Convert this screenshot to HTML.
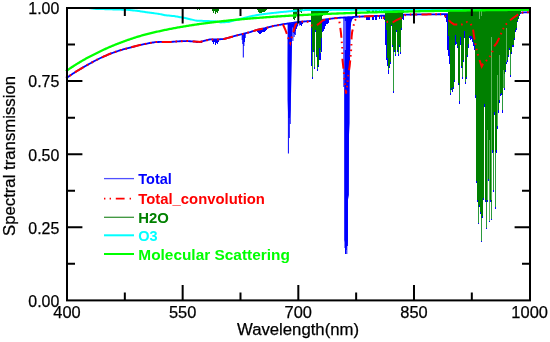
<!DOCTYPE html><html><head><meta charset="utf-8"><title>Spectral transmission</title><style>html,body{margin:0;padding:0;background:#fff;}svg{display:block;}</style></head><body><svg width="550" height="342" viewBox="0 0 550 342">
<rect width="550" height="342" fill="#fff"/>
<path d="M66,77.8 L67,77.44 L68,76.89 L69,76.23 L70,75.58 L71,74.92 L72,74.27 L73,73.61 L74,72.96 L75,72.3 L76,71.6 L77,71.01 L78,70.42 L79,69.83 L80,69.24 L81,68.65 L82,68.06 L83,67.47 L84,66.88 L85,66.29 L86,65.7 L87,65.15 L88,64.6 L89,64.05 L90,63.5 L91,62.95 L92,62.4 L93,61.85 L94,61.3 L95,60.75 L96,60.2 L97,59.7 L98,59.2 L99,58.7 L100,58.2 L101,57.76 L102,57.32 L103,56.88 L104,56.44 L105,56 L106,55.56 L107,55.12 L108,54.68 L109,54.24 L110,53.8 L111,53.45 L112,53.1 L113,52.75 L114,52.4 L115,52.05 L116,51.7 L117,51.35 L118,51 L119,50.65 L120,50.3 L121,50.03 L122,49.76 L123,49.49 L124,49.22 L125,48.95 L126,48.68 L127,48.41 L128,48.14 L129,47.87 L130,47.6 L131,47.33 L132,47.07 L133,46.8 L134,46.53 L135,46.27 L136,46 L137,45.75 L138,45.5 L139,45.25 L140,45 L141,44.8 L142,44.6 L143,44.4 L144,44.2 L145,44 L146,43.8 L147,43.6 L148,43.4 L149,43.2 L150,43 L151,42.84 L152,42.67 L153,42.51 L154,42.35 L155,42.18 L156,42.08 L157,42.05 L158,42.02 L159,41.99 L160,41.96 L161,41.93 L162,41.9 L163,41.93 L164,41.97 L165,42 L166,42.03 L167,42.07 L168,42.1 L169,42.03 L170,41.96 L171,41.89 L172,41.81 L173,41.74 L174,41.67 L175,41.6 L176,41.53 L177,41.47 L178,41.4 L179,41.33 L180,41.27 L181,41.2 L182,41.17 L183,41.13 L184,41.1 L185,41.07 L186,41.03 L187,41 L188,41.08 L189,41.15 L190,41.23 L191,41.3 L192,41.38 L193,41.45 L194,41.52 L195,41.6 L196,41.66 L197,41.72 L198,41.78 L199,41.84 L200,41.9 L201,41.68 L202,41.46 L203,41.24 L204,40.98 L205,40.71 L206,40.45 L207,40.19 L208,39.93 L209,39.66 L210,39.4 L211,39.41 L212,39.42 L213,39.43 L214,39.43 L215,39.44 L216,39.45 L217,39.46 L218,39.4 L219,39.33 L220,39.27 L221,39.21 L222,39.15 L223,39.08 L224,39.02 L225,38.73 L226,38.45 L227,38.16 L228,37.87 L229,37.59 L230,37.3 L231,37.03 L232,36.77 L233,36.5 L234,36.23 L235,35.96 L236,35.69 L237,35.41 L238,35.14 L239,34.87 L240,34.6 L241,34.35 L242,34.1 L243,33.85 L244,33.6 L245,33.35 L246,33.1 L247,32.85 L248,32.6 L249,32.35 L250,32.1 L251,31.79 L252,31.48 L253,31.16 L254,30.85 L255,30.54 L256,30.23 L257,29.91 L258,29.6 L259,29.4 L260,29.2 L261,29 L262,28.8 L263,28.6 L264,28.4 L265,28.2 L266,27.94 L267,27.68 L268,27.41 L269,27.15 L270,26.89 L271,26.62 L272,26.36 L273,26.1 L274,25.91 L275,25.72 L276,25.53 L277,25.34 L278,25.15 L279,24.96 L280,24.77 L281,24.58 L282,24.39 L283,24.2 L284,24.06 L285,23.91 L286,23.77 L287,23.63 L288,23.49 L289,23.34 L290,23.2 L291,23.06 L292,22.92 L293,22.78 L294,22.64 L295,22.5 L296,22.36 L297,22.22 L298,22.08 L299,21.94 L300,21.8 L301,21.72 L302,21.64 L303,21.56 L304,21.48 L305,21.4 L306,21.32 L307,21.24 L308,21.16 L309,21.08 L310,21 L311,20.9 L312,20.8 L313,20.7 L314,20.6 L315,20.5 L316,20.4 L317,20.3 L318,20.2 L319,20.1 L320,20 L321,19.9 L322,19.8 L323,19.7 L324,19.6 L325,19.5 L326,19.37 L327,19.24 L328,19.11 L329,18.98 L330,18.85 L331,18.72 L332,18.59 L333,18.46 L334,18.33 L335,18.2 L336,18.11 L337,18.03 L338,17.94 L339,17.86 L340,17.77 L341,17.69 L342,17.6 L343,17.54 L344,17.49 L345,17.43 L346,17.38 L347,17.32 L348,17.27 L349,17.21 L350,17.16 L351,17.1 L352,17.04 L353,16.99 L354,16.93 L355,16.88 L356,16.82 L357,16.77 L358,16.71 L359,16.66 L360,16.6 L361,16.56 L362,16.52 L363,16.48 L364,16.44 L365,16.4 L366,16.36 L367,16.32 L368,16.28 L369,16.24 L370,16.2 L371,16.16 L372,16.12 L373,16.08 L374,16.04 L375,16 L376,15.96 L377,15.92 L378,15.88 L379,15.84 L380,15.8 L381,15.76 L382,15.72 L383,15.68 L384,15.64 L385,15.6 L386,15.55 L387,15.5 L388,15.45 L389,15.4 L390,15.35 L391,15.3 L392,15.25 L393,15.2 L394,15.15 L395,15.1 L396,15.05 L397,15 L398,14.95 L399,14.9 L400,14.85 L401,14.8 L402,14.75 L403,14.7 L404,14.65 L405,14.6 L406,14.59 L407,14.58 L408,14.57 L409,14.56 L410,14.55 L411,14.54 L412,14.53 L413,14.52 L414,14.51 L415,14.5 L416,14.49 L417,14.48 L418,14.47 L419,14.46 L420,14.45 L421,14.44 L422,14.43 L423,14.42 L424,14.41 L425,14.4 L426,14.39 L427,14.38 L428,14.37 L429,14.36 L430,14.35 L431,14.34 L432,14.33 L433,14.32 L434,14.31 L435,14.3 L436,14.29 L437,14.28 L438,14.27 L439,14.26 L440,14.25 L441,14.24 L442,14.23 L443,14.22 L444,14.21 L445,14.2 L446,14.18 L447,14.17 L448,14.15 L449,14.13 L450,14.11 L451,14.1 L452,14.08 L453,14.06 L454,14.05 L455,14.03 L456,14.01 L457,13.99 L458,13.98 L459,13.96 L460,13.94 L461,13.93 L462,13.91 L463,13.89 L464,13.87 L465,13.86 L466,13.84 L467,13.82 L468,13.81 L469,13.79 L470,13.77 L471,13.75 L472,13.74 L473,13.72 L474,13.7 L475,13.69 L476,13.67 L477,13.65 L478,13.63 L479,13.62 L480,13.6 L481,13.57 L482,13.55 L483,13.53 L484,13.5 L485,13.47 L486,13.45 L487,13.42 L488,13.4 L489,13.38 L490,13.35 L491,13.32 L492,13.3 L493,13.28 L494,13.25 L495,13.22 L496,13.2 L497,13.17 L498,13.15 L499,13.12 L500,13.1 L501,13.07 L502,13.05 L503,13.03 L504,13 L505,12.97 L506,12.95 L507,12.92 L508,12.9 L509,12.88 L510,12.85 L511,12.82 L512,12.8 L513,12.78 L514,12.75 L515,12.72 L516,12.7 L517,12.67 L518,12.65 L519,12.62 L520,12.6 L521,12.56 L522,12.53 L523,12.49 L524,12.45 L525,12.42 L526,12.38 L527,12.35 L528,12.31 L529,12.27 L530,12.24 L531,12.2" fill="none" stroke="#0000ff" stroke-width="1.8" stroke-linejoin="round"/>
<path d="M242.2,34.05V40M242.8,33.9V44M243.3,33.77V57.5M243.9,33.62V46M244.5,33.48V42M245.2,33.3V38M288.4,23.43V153.5M289.3,23.3V138M290.2,23.17V124M292.9,22.79V41M294.1,22.63V37M295.3,22.46V35M296.4,22.3V29M297.5,22.15V26.5M299.3,21.9V25.5M300.6,21.75V24.5M343.9,17.49V87M345,17.43V248M345.5,17.41V254M346.2,17.37V250M346.8,17.33V254M347.4,17.3V246" fill="none" stroke="#0000ff" stroke-width="1"/>
<path d="M196,41.69h1V42.93h-1ZM197,41.75h1V43.34h-1ZM199,41.87h1V43.28h-1ZM201,41.57h1V42.72h-1ZM212,39.42h1V41.65h-1ZM213,39.43h1V43.89h-1ZM214,39.44h1V42.12h-1ZM215,39.45h1V44.62h-1ZM216,39.46h1V42.58h-1ZM217,39.43h1V44.07h-1ZM218,39.37h1V41.6h-1ZM257,29.76h1V31.61h-1ZM258,29.5h1V32.74h-1ZM259,29.3h1V33.56h-1ZM260,29.1h1V34.02h-1ZM261,28.9h1V33.36h-1ZM262,28.7h1V32.42h-1ZM263,28.5h1V31.75h-1ZM264,28.3h1V32.39h-1ZM265,28.07h1V31.05h-1ZM266,27.81h1V29.95h-1ZM293,22.71h1V32.68h-1ZM294,22.57h1V33.5h-1ZM295,22.43h1V31.46h-1ZM296,22.29h1V28.47h-1ZM297,22.15h1V25.96h-1ZM300,21.76h1V25.1h-1ZM301,21.68h1V25.97h-1ZM302,21.6h1V24.46h-1ZM311,20.85h1V66h-1ZM312,20.75h1V79.23h-1ZM313,20.65h1V51.83h-1ZM314,20.55h1V69.09h-1ZM315,20.45h1V31.53h-1ZM316,20.35h1V56.91h-1ZM317,20.25h1V71.12h-1ZM318,20.15h1V67.06h-1ZM319,20.05h1V60h-1ZM320,19.95h1V60h-1ZM321,19.85h1V52h-1ZM322,19.75h1V32h-1ZM323,19.65h1V31h-1ZM324,19.55h1V29h-1ZM325,19.43h1V26h-1ZM326,19.3h1V24.11h-1ZM327,19.18h1V23.5h-1ZM328,19.04h1V22.89h-1ZM366,16.34h1V19.64h-1ZM367,16.3h1V20.19h-1ZM368,16.26h1V19.76h-1ZM369,16.22h1V20.3h-1ZM372,16.1h1V19.79h-1ZM373,16.06h1V20.05h-1ZM375,15.98h1V19.58h-1ZM376,15.94h1V19.73h-1ZM379,15.82h1V18.55h-1ZM381,15.74h1V18.66h-1ZM383,15.66h1V18.97h-1ZM384,15.62h1V20.49h-1ZM385,15.57h1V45h-1ZM386,15.53h1V60h-1ZM387,15.47h1V66h-1ZM388,15.42h1V74h-1ZM389,15.38h1V68.07h-1ZM390,15.32h1V64.01h-1ZM391,15.28h1V26.45h-1ZM392,15.22h1V46.76h-1ZM393,15.17h1V93.45h-1ZM394,15.12h1V51.83h-1ZM395,15.07h1V55.89h-1ZM396,15.03h1V31.53h-1ZM397,14.97h1V51.83h-1ZM398,14.92h1V55.89h-1ZM399,14.88h1V46.76h-1ZM400,14.82h1V53.86h-1ZM401,14.78h1V29.5h-1ZM402,14.72h1V19.35h-1ZM403,14.67h1V19.56h-1ZM444,14.21h1V16h-1ZM445,14.19h1V18h-1ZM446,14.17h1V22h-1ZM447,14.16h1V50h-1ZM448,14.14h1V56h-1ZM449,14.12h1V64h-1ZM450,14.11h1V95.48h-1ZM451,14.09h1V90.4h-1ZM452,14.07h1V92.43h-1ZM453,14.05h1V89.39h-1ZM454,14.04h1V82.28h-1ZM455,14.02h1V45h-1ZM456,14h1V43.71h-1ZM457,13.99h1V47.77h-1ZM458,13.97h1V85.33h-1ZM459,13.95h1V103.59h-1ZM460,13.93h1V45h-1ZM461,13.92h1V68.07h-1ZM462,13.9h1V79.23h-1ZM463,13.88h1V61.98h-1ZM464,13.87h1V38h-1ZM465,13.85h1V84.31h-1ZM466,13.83h1V79.23h-1ZM467,13.81h1V56.91h-1ZM468,13.8h1V48h-1ZM469,13.78h1V38h-1ZM470,13.76h1V40h-1ZM471,13.75h1V39h-1ZM472,13.73h1V42h-1ZM473,13.71h1V46h-1ZM474,13.69h1V50h-1ZM475,13.68h1V97.51h-1ZM476,13.66h1V183.31h-1ZM477,13.64h1V201.94h-1ZM478,13.63h1V224.49h-1ZM479,13.61h1V206.83h-1ZM480,13.59h1V213.69h-1ZM481,13.56h1V242.13h-1ZM482,13.54h1V217.6h-1ZM483,13.51h1V199.93h-1ZM484,13.49h1V106.64h-1ZM485,13.46h1V201.88h-1ZM486,13.44h1V229.35h-1ZM487,13.41h1V201.86h-1ZM488,13.39h1V181.24h-1ZM489,13.36h1V222.46h-1ZM490,13.34h1V201.83h-1ZM491,13.31h1V220.48h-1ZM492,13.29h1V152.72h-1ZM493,13.26h1V191.99h-1ZM494,13.24h1V114.76h-1ZM495,13.21h1V208.67h-1ZM496,13.19h1V152.67h-1ZM497,13.16h1V128.97h-1ZM498,13.14h1V112.73h-1ZM499,13.11h1V102.58h-1ZM500,13.09h1V96.49h-1ZM501,13.06h1V95.48h-1ZM502,13.04h1V112.73h-1ZM503,13.01h1V74.16h-1ZM504,12.99h1V90.4h-1ZM505,12.96h1V72.13h-1ZM506,12.94h1V64.01h-1ZM507,12.91h1V61.98h-1ZM508,12.89h1V56.91h-1ZM509,12.86h1V49.8h-1ZM510,12.84h1V77.2h-1ZM511,12.81h1V53.86h-1ZM512,12.79h1V46.76h-1ZM513,12.76h1V46.76h-1ZM514,12.74h1V39.65h-1ZM515,12.71h1V31.53h-1ZM516,12.69h1V29.5h-1ZM517,12.66h1V21.89h-1ZM518,12.64h1V19.35h-1ZM519,12.61h1V16.3h-1ZM520,12.58h1V14.27h-1Z" fill="#0000ff" shape-rendering="crispEdges"/>
<path d="M287.7,23.8 L297,23.4 L296.2,26 L292.2,27.5 L291.8,60 L291.1,90 L290.6,110 L290.0,118 L288.2,118 L287.6,100 L287.5,60 Z" fill="#0000ff"/>
<path d="M346.3,18 L354.5,17.4 L352.2,19.5 L351.1,23 L350.7,30 L350.4,45 L350.0,60 L349.7,87 L349.6,123 L349.0,135 L348.9,195 L347.9,200 L347.8,240 L346.5,248 L344.4,240 L344.3,90 L344.8,62 L345.5,50 L346.3,44 L346.3,25 Z" fill="#0000ff"/>
<path d="M345.2,21V50" stroke="#b4b4ff" stroke-width="0.8"/>
<path d="M196,8h1V9.4h-1ZM197,8h1V9.8h-1ZM199,8h1V9.6h-1ZM201,8h1V9.3h-1ZM212,8h1V10.5h-1ZM213,8h1V13h-1ZM214,8h1V11h-1ZM215,8h1V13.8h-1ZM216,8h1V11.5h-1ZM217,8h1V13.2h-1ZM218,8h1V10.5h-1ZM257,8h1V10h-1ZM258,8h1V11.5h-1ZM259,8h1V12.6h-1ZM260,8h1V13.3h-1ZM261,8h1V12.8h-1ZM262,8h1V12h-1ZM263,8h1V11.5h-1ZM264,8h1V12.4h-1ZM265,8h1V11.2h-1ZM266,8h1V10.3h-1ZM293,8h1V18.5h-1ZM294,8h1V19.5h-1ZM295,8h1V17.5h-1ZM296,8h1V14.5h-1ZM297,8h1V12h-1ZM300,8h1V11.5h-1ZM301,8h1V12.5h-1ZM302,8h1V11h-1ZM311,8h1V28h-1ZM312,8h1V51.5h-1ZM313,8h1V50h-1ZM314,8h1V51.5h-1ZM315,8h1V30h-1ZM316,8h1V55h-1ZM317,8h1V66.5h-1ZM318,8h1V65h-1ZM319,8h1V48h-1ZM320,8h1V49.5h-1ZM321,8h1V38h-1ZM322,8h1V16h-1ZM323,8h1V15h-1ZM324,8h1V14h-1ZM325,8h1V13h-1ZM326,8h1V13h-1ZM327,8h1V12.5h-1ZM328,8h1V12h-1ZM366,8h1V11.4h-1ZM367,8h1V12h-1ZM368,8h1V11.6h-1ZM369,8h1V12.2h-1ZM372,8h1V11.8h-1ZM373,8h1V12.1h-1ZM375,8h1V11.7h-1ZM376,8h1V11.9h-1ZM379,8h1V10.8h-1ZM381,8h1V11h-1ZM383,8h1V11.4h-1ZM384,8h1V13h-1ZM385,8h1V22h-1ZM386,8h1V30h-1ZM387,8h1V58h-1ZM388,8h1V67.5h-1ZM389,8h1V66h-1ZM390,8h1V62h-1ZM391,8h1V25h-1ZM392,8h1V45h-1ZM393,8h1V51.5h-1ZM394,8h1V50h-1ZM395,8h1V51.5h-1ZM396,8h1V30h-1ZM397,8h1V50h-1ZM398,8h1V51.5h-1ZM399,8h1V45h-1ZM400,8h1V46.5h-1ZM401,8h1V28h-1ZM402,8h1V18h-1ZM403,8h1V13h-1ZM444,8h1V8h-1ZM445,8h1V8h-1ZM446,8h1V8h-1ZM447,8h1V8h-1ZM448,8h1V36h-1ZM449,8h1V50h-1ZM450,8h1V89.5h-1ZM451,8h1V88h-1ZM452,8h1V90h-1ZM453,8h1V87h-1ZM454,8h1V80h-1ZM455,8h1V35h-1ZM456,8h1V42h-1ZM457,8h1V46h-1ZM458,8h1V83h-1ZM459,8h1V84.5h-1ZM460,8h1V37h-1ZM461,8h1V66h-1ZM462,8h1V67.5h-1ZM463,8h1V60h-1ZM464,8h1V31h-1ZM465,8h1V78.5h-1ZM466,8h1V77h-1ZM467,8h1V55h-1ZM468,8h1V44h-1ZM469,8h1V36h-1ZM470,8h1V36h-1ZM471,8h1V36h-1ZM472,8h1V38h-1ZM473,8h1V42h-1ZM474,8h1V44h-1ZM475,8h1V95h-1ZM476,8h1V181h-1ZM477,8h1V200h-1ZM478,8h1V206.5h-1ZM479,8h1V205h-1ZM480,8h1V212h-1ZM481,8h1V217.5h-1ZM482,8h1V216h-1ZM483,8h1V198h-1ZM484,8h1V104h-1ZM485,8h1V200h-1ZM486,8h1V201.5h-1ZM487,8h1V200h-1ZM488,8h1V179h-1ZM489,8h1V201.5h-1ZM490,8h1V200h-1ZM491,8h1V201.5h-1ZM492,8h1V150h-1ZM493,8h1V151.5h-1ZM494,8h1V112h-1ZM495,8h1V151.5h-1ZM496,8h1V150h-1ZM497,8h1V126h-1ZM498,8h1V110h-1ZM499,8h1V100h-1ZM500,8h1V94h-1ZM501,8h1V93h-1ZM502,8h1V94.5h-1ZM503,8h1V72h-1ZM504,8h1V73.5h-1ZM505,8h1V70h-1ZM506,8h1V62h-1ZM507,8h1V60h-1ZM508,8h1V55h-1ZM509,8h1V48h-1ZM510,8h1V53.5h-1ZM511,8h1V52h-1ZM512,8h1V45h-1ZM513,8h1V45h-1ZM514,8h1V38h-1ZM515,8h1V30h-1ZM516,8h1V28h-1ZM517,8h1V20.5h-1ZM518,8h1V18h-1ZM519,8h1V15h-1ZM520,8h1V13h-1Z" fill="#008000" shape-rendering="crispEdges"/>
<path d="M312,51.5h1V77h-1ZM314,51.5h1V67h-1ZM317,66.5h1V69h-1ZM320,49.5h1V53h-1ZM388,67.5h1V70h-1ZM393,51.5h1V91h-1ZM395,51.5h1V54h-1ZM398,51.5h1V54h-1ZM400,46.5h1V52h-1ZM450,89.5h1V93h-1ZM459,84.5h1V101h-1ZM462,67.5h1V77h-1ZM465,78.5h1V82h-1ZM478,206.5h1V223h-1ZM481,217.5h1V241h-1ZM486,201.5h1V228h-1ZM489,201.5h1V221h-1ZM491,201.5h1V219h-1ZM493,151.5h1V190h-1ZM495,151.5h1V207h-1ZM502,94.5h1V110h-1ZM504,73.5h1V88h-1ZM510,53.5h1V75h-1Z" fill="#2a9a3c" shape-rendering="crispEdges"/>
<path d="M491,37h1V200h-1ZM497,75h1V126h-1ZM499,55h1V100h-1ZM487,130h1V200h-1ZM489,140h1V221h-1ZM479,11h1V19h-1ZM481,11h1V16h-1ZM506,28h1V62h-1ZM503,70h1V88h-1Z" fill="#5cb35c" shape-rendering="crispEdges"/>
<path d="M66,77.8 L67,77.44 L68,76.89 L69,76.23 L70,75.58 L71,74.92 L72,74.27 L73,73.61 L74,72.96 L75,72.3 L76,71.6 L77,71.01 L78,70.42 L79,69.83 L80,69.24 L81,68.65 L82,68.06 L83,67.47 L84,66.88 L85,66.29 L86,65.7 L87,65.15 L88,64.6 L89,64.05 L90,63.5 L91,62.95 L92,62.4 L93,61.85 L94,61.3 L95,60.75 L96,60.2 L97,59.7 L98,59.2 L99,58.7 L100,58.2 L101,57.76 L102,57.32 L102,57.32 L103,56.88 L104,56.44 L105,56 L106,55.56 L107,55.12 L108,54.68 L109,54.24 L110,53.8 L111,53.45 L112,53.1 L113,52.75 L114,52.4 L115,52.05 L116,51.7 L117,51.35 L118,51 L119,50.65 L120,50.3 L121,50.03 L122,49.76 L123,49.49 L124,49.22 L125,48.95 L126,48.68 L127,48.41 L128,48.14 L129,47.87 L130,47.6 L131,47.33 L132,47.07 L133,46.8 L134,46.53 L135,46.27 L136,46 L137,45.75 L138,45.5 L139,45.25 L140,45 L141,44.8 L142,44.6 L143,44.4 L144,44.2 L145,44 L146,43.8 L147,43.6 L148,43.4 L149,43.2 L150,43 L151,42.84 L152,42.67 L153,42.51 L154,42.35 L155,42.18 L156,42.08 L157,42.05 L158,42.02 L159,41.99 L160,41.96 L161,41.93 L162,41.9 L163,41.93 L164,41.97 L165,42 L166,42.03 L167,42.07 L168,42.1 L169,42.03 L170,41.96 L171,41.89 L172,41.81 L173,41.74 L174,41.67 L175,41.6 L176,41.53 L177,41.47 L178,41.4 L179,41.33 L180,41.27 L181,41.2 L182,41.17 L183,41.13 L184,41.1 L185,41.07 L186,41.03 L187,41 L188,41.08 L189,41.15 L190,41.23 L191,41.3 L192,41.38 L193,41.45 L194,41.52 L195,41.6 L196,41.66 L197,41.72 L198,41.78 L199,41.84 L200,41.9 L201,41.68 L202,41.46 L203,41.24 L204,40.98 L205,40.71 L206,40.45 L207,40.19 L208,39.93 L209,39.66 L210,39.4 L211,39.41 L212,39.42 L213,39.43 L214,39.43 L215,39.44 L216,39.45 L217,39.46 L218,39.4 L219,39.33 L220,39.27 L221,39.21 L222,39.15 L223,39.08 L224,39.02 L225,38.73 L226,38.45 L227,38.16 L228,37.87 L229,37.59 L230,37.3 L231,37.03 L232,36.77 L233,36.5 L234,36.23 L235,35.96 L236,35.69 L237,35.41 L238,35.14 L239,34.87 L240,34.6 L241,34.35 L242,34.1 L243,33.85 L244,33.6 L245,33.35 L246,33.1 L247,32.85 L248,32.6 L249,32.35 L250,32.1 L251,31.79 L252,31.48 L253,31.16 L254,30.85 L255,30.54 L256,30.23 L257,29.91 L258,29.6 L259,29.4 L260,29.2 L261,29 L262,28.8 L263,28.6 L264,28.4 L265,28.2 L266,27.94 L267,27.68 L268,27.41 L269,27.15 L270,26.89 L271,26.62 L272,26.36 L273,26.1 L274,25.91 L275,25.72 L276,25.53 L277,25.34 L278,25.15 L279,24.96 L280,24.77 L281,24.58" fill="none" stroke="#ff0000" stroke-width="2" stroke-dasharray="10 3.8 1.6 3.9 1.6 3.9 1.6 4.6" stroke-dashoffset="20.52"/>
<path d="M281,24.58 L283,24.6 L285.5,30.2 L287,34.3 L288.2,37.8 L290.3,43 L292,36 L293.5,31.4 L295.5,24.5 L297.5,22.8 L299,21.94 L299.5,21.87" fill="none" stroke="#ff0000" stroke-width="2" stroke-dasharray="10 3.8 1.6 3.9 1.6 3.9 1.6 4.6" stroke-dashoffset="29.00"/>
<path d="M299.5,21.87 L300,21.8 L301,21.72 L302,21.64 L303,21.56 L304,21.48 L305,21.4 L306,21.32 L309,22.2 L312,25.5 L316.5,25.5 L317,25.12 L319.5,23.2 L323,20.3 L326,19.37 L327,19.24 L328,19.11 L329,18.98 L330,18.85 L331,18.72 L332,18.59 L333,18.46 L334,18.33 L335,18.2 L336,18.11" fill="none" stroke="#ff0000" stroke-width="2" stroke-dasharray="10 3.8 1.6 3.9 1.6 3.9 1.6 4.6" stroke-dashoffset="11.76"/>
<path d="M336,18.11 L337.5,18.4 L339.3,21 L340.2,27 L341,33.4 L341.6,40.4 L342.2,46 L342.5,60 L343.6,70 L344.8,82 L346,93.5" fill="none" stroke="#ff0000" stroke-width="2" stroke-dasharray="10 3.8 1.6 3.9 1.6 3.9 1.6 4.6" stroke-dashoffset="19.44"/>
<path d="M346,93.5 L347,86.8 L348,77 L349.7,66 L351.3,48 L351.6,37 L352.1,32.2 L353.5,25.8 L355,20.5 L357,17.4 L359,16.66 L360,16.6 L361,16.56" fill="none" stroke="#ff0000" stroke-width="2" stroke-dasharray="10 3.8 1.6 3.9 1.6 3.9 1.6 4.6" stroke-dashoffset="7.57"/>
<path d="M361,16.56 L362,16.52 L363,16.48 L364,16.44 L365,16.4 L366,16.36 L367,16.32 L368,16.28 L369,16.24 L370,16.2 L371,16.16 L372,16.12 L373,16.08 L374,16.04 L375,16 L376,15.96 L377,15.92 L378,15.88 L380,16.2 L383,17.4 L387.5,22 L392.5,22.6 L396,20.3 L400,18.5 L405,15.2 L407,14.58 L408,14.57 L409,14.56 L410,14.55 L411,14.54 L412,14.53 L413,14.52 L414,14.51 L415,14.5 L416,14.49 L417,14.48 L418,14.47 L419,14.46 L420,14.45 L421,14.44 L421.5,14.43 L422,14.43 L423,14.42 L424,14.41 L425,14.4 L426,14.39 L427,14.38 L428,14.37 L429,14.36 L430,14.35 L431,14.34 L432,14.33 L433,14.32 L434,14.31 L435,14.3 L436,14.29 L437,14.28 L438,14.27 L439,14.26 L440,14.25" fill="none" stroke="#ff0000" stroke-width="2" stroke-dasharray="10 3.8 1.6 3.9 1.6 3.9 1.6 4.6" stroke-dashoffset="28.10"/>
<path d="M440,14.25 L441.5,14.2 L446.5,16.8 L450.5,22 L454,24.4 L458,24.6 L462,24.4 L467,22 L470.5,23.2 L473,29 L474,36 L475,42.5 L476,47.2 L478.5,57 L481.7,66.5 L483,64 L485,62 L489,58 L492,53 L493.5,47.4 L497,42.5 L500,36.3 L502.5,30.2 L505.5,25 L509,21 L514.5,17 L519,13.8 L523,12.49 L524,12.45 L525,12.42 L526,12.38 L527,12.35 L528,12.31 L529,12.27 L530,12.24 L531,12.2" fill="none" stroke="#ff0000" stroke-width="2" stroke-dasharray="10 3.8 1.6 3.9 1.6 3.9 1.6 4.6" stroke-dashoffset="19.80"/>
<path d="M88,8 L89,8.11 L90,8.22 L91,8.34 L92,8.45 L93,8.56 L94,8.68 L95,8.79 L96,8.9 L97,8.93 L98,8.96 L99,8.98 L100,9.01 L101,9.04 L102,9.07 L103,9.1 L104,9.12 L105,9.15 L106,9.18 L107,9.21 L108,9.24 L109,9.27 L110,9.29 L111,9.32 L112,9.35 L113,9.38 L114,9.41 L115,9.43 L116,9.46 L117,9.49 L118,9.52 L119,9.55 L120,9.58 L121,9.6 L122,9.63 L123,9.66 L124,9.69 L125,9.72 L126,9.74 L127,9.77 L128,9.8 L129,9.92 L130,10.04 L131,10.15 L132,10.27 L133,10.39 L134,10.51 L135,10.63 L136,10.75 L137,10.86 L138,10.98 L139,11.1 L140,11.25 L141,11.4 L142,11.55 L143,11.7 L144,11.85 L145,12 L146,12.15 L147,12.3 L148,12.43 L149,12.57 L150,12.7 L151,12.83 L152,12.97 L153,13.1 L154,13.23 L155,13.37 L156,13.5 L157,13.63 L158,13.77 L159,13.9 L160,14.12 L161,14.33 L162,14.55 L163,14.77 L164,14.98 L165,15.2 L166,15.3 L167,15.4 L168,15.5 L169,15.6 L170,15.7 L171,15.8 L172,15.9 L173,16 L174,16.1 L175,16.2 L176,16.4 L177,16.6 L178,16.8 L179,17 L180,17.2 L181,17.36 L182,17.52 L183,17.68 L184,17.84 L185,18 L186,18.24 L187,18.47 L188,18.71 L189,18.95 L190,19.18 L191,19.42 L192,19.65 L193,19.89 L194,20.13 L195,20.36 L196,20.6 L197,20.64 L198,20.68 L199,20.73 L200,20.77 L201,20.81 L202,20.85 L203,20.89 L204,20.93 L205,20.98 L206,21.02 L207,21.06 L208,21.1 L209,21.11 L210,21.13 L211,21.14 L212,21.16 L213,21.17 L214,21.19 L215,21.2 L216,21.4 L217,21.6 L218,21.8 L219,22 L220,22.2 L221,22.4 L222,22.34 L223,22.27 L224,22.21 L225,22.15 L226,22.09 L227,22.02 L228,21.96 L229,21.9 L230,21.65 L231,21.4 L232,21.15 L233,20.9 L234,20.65 L235,20.4 L236,20.1 L237,19.8 L238,19.5 L239,19.2 L240,18.9 L241,18.65 L242,18.4 L243,18.15 L244,17.9 L245,17.65 L246,17.4 L247,17.15 L248,16.9 L249,16.65 L250,16.4 L251,16.21 L252,16.02 L253,15.84 L254,15.65 L255,15.46 L256,15.28 L257,15.09 L258,14.9 L259,14.76 L260,14.61 L261,14.47 L262,14.33 L263,14.19 L264,14.04 L265,13.9 L266,13.79 L267,13.67 L268,13.56 L269,13.45 L270,13.33 L271,13.22 L272,13.11 L273,12.99 L274,12.88 L275,12.77 L276,12.65 L277,12.54 L278,12.43 L279,12.31 L280,12.2 L281,12.11 L282,12.01 L283,11.92 L284,11.83 L285,11.73 L286,11.64 L287,11.55 L288,11.45 L289,11.36 L290,11.27 L291,11.17 L292,11.08 L293,10.99 L294,10.89 L295,10.8 L296,10.73 L297,10.66 L298,10.59 L299,10.52 L300,10.45 L301,10.38 L302,10.31 L303,10.24 L304,10.17 L305,10.1 L306,10.09 L307,10.08 L308,10.07 L309,10.07 L310,10.06 L311,10.05 L312,10.04 L313,10.03 L314,10.02 L315,10.01 L316,10.01 L317,10 L318,9.99 L319,9.98 L320,9.97 L321,9.96 L322,9.95 L323,9.95 L324,9.94 L325,9.93 L326,9.92 L327,9.91 L328,9.9 L329,9.89 L330,9.89 L331,9.88 L332,9.87 L333,9.86 L334,9.85 L335,9.84 L336,9.83 L337,9.83 L338,9.82 L339,9.81 L340,9.8 L341,9.8 L342,9.79 L343,9.79 L344,9.79 L345,9.78 L346,9.78 L347,9.78 L348,9.77 L349,9.77 L350,9.77 L351,9.76 L352,9.76 L353,9.76 L354,9.75 L355,9.75 L356,9.75 L357,9.74 L358,9.74 L359,9.74 L360,9.73 L361,9.73 L362,9.73 L363,9.72 L364,9.72 L365,9.72 L366,9.71 L367,9.71 L368,9.71 L369,9.7 L370,9.7 L371,9.7 L372,9.69 L373,9.69 L374,9.69 L375,9.68 L376,9.68 L377,9.68 L378,9.67 L379,9.67 L380,9.67 L381,9.66 L382,9.66 L383,9.66 L384,9.65 L385,9.65 L386,9.65 L387,9.64 L388,9.64 L389,9.64 L390,9.63 L391,9.63 L392,9.63 L393,9.62 L394,9.62 L395,9.62 L396,9.61 L397,9.61 L398,9.61 L399,9.6 L400,9.6 L401,9.6 L402,9.6 L403,9.59 L404,9.59 L405,9.59 L406,9.59 L407,9.58 L408,9.58 L409,9.58 L410,9.58 L411,9.57 L412,9.57 L413,9.57 L414,9.57 L415,9.57 L416,9.56 L417,9.56 L418,9.56 L419,9.56 L420,9.55 L421,9.55 L422,9.55 L423,9.55 L424,9.55 L425,9.54 L426,9.54 L427,9.54 L428,9.54 L429,9.53 L430,9.53 L431,9.53 L432,9.53 L433,9.52 L434,9.52 L435,9.52 L436,9.52 L437,9.52 L438,9.51 L439,9.51 L440,9.51 L441,9.51 L442,9.5 L443,9.5 L444,9.5 L445,9.5 L446,9.49 L447,9.49 L448,9.49 L449,9.49 L450,9.49 L451,9.48 L452,9.48 L453,9.48 L454,9.48 L455,9.47 L456,9.47 L457,9.47 L458,9.47 L459,9.46 L460,9.46 L461,9.46 L462,9.46 L463,9.46 L464,9.45 L465,9.45 L466,9.45 L467,9.45 L468,9.44 L469,9.44 L470,9.44 L471,9.44 L472,9.44 L473,9.43 L474,9.43 L475,9.43 L476,9.43 L477,9.42 L478,9.42 L479,9.42 L480,9.42 L481,9.41 L482,9.41 L483,9.41 L484,9.41 L485,9.41 L486,9.4 L487,9.4 L488,9.4 L489,9.4 L490,9.39 L491,9.39 L492,9.39 L493,9.39 L494,9.38 L495,9.38 L496,9.38 L497,9.38 L498,9.38 L499,9.37 L500,9.37 L501,9.37 L502,9.37 L503,9.36 L504,9.36 L505,9.36 L506,9.36 L507,9.35 L508,9.35 L509,9.35 L510,9.35 L511,9.35 L512,9.34 L513,9.34 L514,9.34 L515,9.34 L516,9.33 L517,9.33 L518,9.33 L519,9.33 L520,9.33 L521,9.32 L522,9.32 L523,9.32 L524,9.32 L525,9.31 L526,9.31 L527,9.31 L528,9.31 L529,9.3 L530,9.3 L531,9.3" fill="none" stroke="#00ffff" stroke-width="2.0"/>
<path d="M66,71.21 L67,70.5 L68,69.8 L69,69.11 L70,68.42 L71,67.75 L72,67.08 L73,66.42 L74,65.78 L75,65.14 L76,64.51 L77,63.88 L78,63.27 L79,62.66 L80,62.06 L81,61.47 L82,60.88 L83,60.31 L84,59.74 L85,59.18 L86,58.62 L87,58.08 L88,57.54 L89,57 L90,56.48 L91,55.96 L92,55.45 L93,54.94 L94,54.44 L95,53.95 L96,53.44 L97,52.93 L98,52.43 L99,51.94 L100,51.45 L101,50.97 L102,50.5 L103,50.03 L104,49.56 L105,49.1 L106,48.65 L107,48.2 L108,47.76 L109,47.32 L110,46.89 L111,46.47 L112,46.04 L113,45.63 L114,45.22 L115,44.81 L116,44.41 L117,44.01 L118,43.62 L119,43.23 L120,42.85 L121,42.47 L122,42.09 L123,41.72 L124,41.35 L125,40.99 L126,40.63 L127,40.28 L128,39.93 L129,39.59 L130,39.24 L131,38.91 L132,38.57 L133,38.24 L134,37.91 L135,37.59 L136,37.27 L137,36.96 L138,36.64 L139,36.33 L140,36.03 L141,35.75 L142,35.48 L143,35.21 L144,34.94 L145,34.67 L146,34.41 L147,34.15 L148,33.9 L149,33.65 L150,33.4 L151,33.15 L152,32.91 L153,32.67 L154,32.43 L155,32.19 L156,31.96 L157,31.73 L158,31.5 L159,31.28 L160,31.06 L161,30.84 L162,30.62 L163,30.41 L164,30.2 L165,29.99 L166,29.78 L167,29.58 L168,29.37 L169,29.17 L170,28.98 L171,28.78 L172,28.59 L173,28.4 L174,28.21 L175,28.02 L176,27.84 L177,27.65 L178,27.47 L179,27.3 L180,27.12 L181,26.94 L182,26.77 L183,26.6 L184,26.43 L185,26.27 L186,26.1 L187,25.94 L188,25.78 L189,25.62 L190,25.46 L191,25.3 L192,25.15 L193,25 L194,24.85 L195,24.7 L196,24.55 L197,24.4 L198,24.26 L199,24.11 L200,23.97 L201,23.83 L202,23.69 L203,23.56 L204,23.42 L205,23.29 L206,23.16 L207,23.02 L208,22.89 L209,22.77 L210,22.64 L211,22.51 L212,22.39 L213,22.27 L214,22.14 L215,22.02 L216,21.9 L217,21.79 L218,21.67 L219,21.55 L220,21.44 L221,21.33 L222,21.21 L223,21.1 L224,20.99 L225,20.88 L226,20.78 L227,20.67 L228,20.57 L229,20.46 L230,20.36 L231,20.26 L232,20.16 L233,20.06 L234,19.96 L235,19.86 L236,19.76 L237,19.66 L238,19.57 L239,19.48 L240,19.38 L241,19.29 L242,19.2 L243,19.11 L244,19.02 L245,18.93 L246,18.84 L247,18.76 L248,18.67 L249,18.58 L250,18.5 L251,18.42 L252,18.33 L253,18.25 L254,18.17 L255,18.09 L256,18.01 L257,17.93 L258,17.85 L259,17.78 L260,17.7 L261,17.63 L262,17.55 L263,17.48 L264,17.4 L265,17.33 L266,17.26 L267,17.19 L268,17.12 L269,17.05 L270,16.98 L271,16.91 L272,16.84 L273,16.77 L274,16.7 L275,16.64 L276,16.57 L277,16.51 L278,16.44 L279,16.38 L280,16.32 L281,16.25 L282,16.19 L283,16.13 L284,16.07 L285,16.01 L286,15.95 L287,15.89 L288,15.83 L289,15.77 L290,15.72 L291,15.66 L292,15.6 L293,15.55 L294,15.49 L295,15.44 L296,15.38 L297,15.33 L298,15.27 L299,15.22 L300,15.17 L301,15.12 L302,15.06 L303,15.01 L304,14.96 L305,14.91 L306,14.86 L307,14.81 L308,14.76 L309,14.72 L310,14.67 L311,14.62 L312,14.57 L313,14.53 L314,14.48 L315,14.43 L316,14.39 L317,14.34 L318,14.3 L319,14.25 L320,14.21 L321,14.17 L322,14.12 L323,14.08 L324,14.04 L325,14 L326,13.95 L327,13.91 L328,13.87 L329,13.83 L330,13.79 L331,13.75 L332,13.71 L333,13.67 L334,13.63 L335,13.59 L336,13.56 L337,13.52 L338,13.48 L339,13.44 L340,13.41 L341,13.37 L342,13.33 L343,13.3 L344,13.26 L345,13.23 L346,13.19 L347,13.16 L348,13.12 L349,13.09 L350,13.05 L351,13.02 L352,12.99 L353,12.95 L354,12.92 L355,12.89 L356,12.86 L357,12.82 L358,12.79 L359,12.76 L360,12.73 L361,12.7 L362,12.67 L363,12.64 L364,12.61 L365,12.58 L366,12.55 L367,12.52 L368,12.49 L369,12.46 L370,12.43 L371,12.4 L372,12.37 L373,12.34 L374,12.32 L375,12.29 L376,12.26 L377,12.23 L378,12.21 L379,12.18 L380,12.15 L381,12.13 L382,12.1 L383,12.07 L384,12.05 L385,12.02 L386,12 L387,11.97 L388,11.95 L389,11.92 L390,11.9 L391,11.87 L392,11.85 L393,11.82 L394,11.8 L395,11.78 L396,11.75 L397,11.73 L398,11.71 L399,11.68 L400,11.66 L401,11.64 L402,11.62 L403,11.59 L404,11.57 L405,11.55 L406,11.53 L407,11.51 L408,11.49 L409,11.46 L410,11.44 L411,11.42 L412,11.4 L413,11.38 L414,11.36 L415,11.34 L416,11.32 L417,11.3 L418,11.28 L419,11.26 L420,11.24 L421,11.22 L422,11.2 L423,11.18 L424,11.16 L425,11.14 L426,11.13 L427,11.11 L428,11.09 L429,11.07 L430,11.05 L431,11.03 L432,11.02 L433,11 L434,10.98 L435,10.96 L436,10.95 L437,10.93 L438,10.91 L439,10.9 L440,10.88 L441,10.86 L442,10.84 L443,10.83 L444,10.81 L445,10.8 L446,10.78 L447,10.76 L448,10.75 L449,10.73 L450,10.72 L451,10.7 L452,10.69 L453,10.67 L454,10.65 L455,10.64 L456,10.62 L457,10.61 L458,10.59 L459,10.58 L460,10.57 L461,10.55 L462,10.54 L463,10.52 L464,10.51 L465,10.49 L466,10.48 L467,10.47 L468,10.45 L469,10.44 L470,10.42 L471,10.41 L472,10.4 L473,10.38 L474,10.37 L475,10.36 L476,10.34 L477,10.33 L478,10.32 L479,10.31 L480,10.29 L481,10.28 L482,10.27 L483,10.26 L484,10.24 L485,10.23 L486,10.22 L487,10.21 L488,10.19 L489,10.18 L490,10.17 L491,10.16 L492,10.15 L493,10.14 L494,10.12 L495,10.11 L496,10.1 L497,10.09 L498,10.08 L499,10.07 L500,10.06 L501,10.05 L502,10.03 L503,10.02 L504,10.01 L505,10 L506,9.99 L507,9.98 L508,9.97 L509,9.96 L510,9.95 L511,9.94 L512,9.93 L513,9.92 L514,9.91 L515,9.9 L516,9.89 L517,9.88 L518,9.87 L519,9.86 L520,9.85 L521,9.84 L522,9.83 L523,9.82 L524,9.81 L525,9.8 L526,9.79 L527,9.78 L528,9.77 L529,9.76 L530,9.76 L531,9.75" fill="none" stroke="#00ff00" stroke-width="2.3"/>
<rect x="67" y="8" width="463" height="292.4" fill="none" stroke="#000" stroke-width="2"/>
<path d="M124.83,300.4V292.4M124.83,8V16M182.66,300.4V285M182.66,8V23.4M240.49,300.4V292.4M240.49,8V16M298.32,300.4V285M298.32,8V23.4M356.15,300.4V292.4M356.15,8V16M413.99,300.4V285M413.99,8V23.4M471.82,300.4V292.4M471.82,8V16M67,263.85H75M530,263.85H522M67,227.3H82.4M530,227.3H514.6M67,190.75H75M530,190.75H522M67,154.2H82.4M530,154.2H514.6M67,117.65H75M530,117.65H522M67,81.1H82.4M530,81.1H514.6M67,44.55H75M530,44.55H522" stroke="#000" stroke-width="2" fill="none"/>
<text x="59.3" y="14.3" font-family="'Liberation Sans', Arial, sans-serif" stroke="#000" stroke-width="0.25" font-size="16.9" text-anchor="end" textLength="31" lengthAdjust="spacingAndGlyphs">1.00</text>
<text x="59.3" y="87.4" font-family="'Liberation Sans', Arial, sans-serif" stroke="#000" stroke-width="0.25" font-size="16.9" text-anchor="end" textLength="31" lengthAdjust="spacingAndGlyphs">0.75</text>
<text x="59.3" y="160.5" font-family="'Liberation Sans', Arial, sans-serif" stroke="#000" stroke-width="0.25" font-size="16.9" text-anchor="end" textLength="31" lengthAdjust="spacingAndGlyphs">0.50</text>
<text x="59.3" y="233.6" font-family="'Liberation Sans', Arial, sans-serif" stroke="#000" stroke-width="0.25" font-size="16.9" text-anchor="end" textLength="31" lengthAdjust="spacingAndGlyphs">0.25</text>
<text x="59.3" y="306.7" font-family="'Liberation Sans', Arial, sans-serif" stroke="#000" stroke-width="0.25" font-size="16.9" text-anchor="end" textLength="31" lengthAdjust="spacingAndGlyphs">0.00</text>
<text x="67" y="318.2" font-family="'Liberation Sans', Arial, sans-serif" stroke="#000" stroke-width="0.25" font-size="16.9" text-anchor="middle" textLength="27.4" lengthAdjust="spacingAndGlyphs">400</text>
<text x="182.66" y="318.2" font-family="'Liberation Sans', Arial, sans-serif" stroke="#000" stroke-width="0.25" font-size="16.9" text-anchor="middle" textLength="27.4" lengthAdjust="spacingAndGlyphs">550</text>
<text x="298.32" y="318.2" font-family="'Liberation Sans', Arial, sans-serif" stroke="#000" stroke-width="0.25" font-size="16.9" text-anchor="middle" textLength="27.4" lengthAdjust="spacingAndGlyphs">700</text>
<text x="413.99" y="318.2" font-family="'Liberation Sans', Arial, sans-serif" stroke="#000" stroke-width="0.25" font-size="16.9" text-anchor="middle" textLength="27.4" lengthAdjust="spacingAndGlyphs">850</text>
<text x="529.65" y="318.2" font-family="'Liberation Sans', Arial, sans-serif" stroke="#000" stroke-width="0.25" font-size="16.9" text-anchor="middle" textLength="36.6" lengthAdjust="spacingAndGlyphs">1000</text>
<text x="298" y="335.4" font-family="'Liberation Sans', Arial, sans-serif" stroke="#000" stroke-width="0.25" font-size="16" text-anchor="middle" textLength="122" lengthAdjust="spacingAndGlyphs">Wavelength(nm)</text>
<text transform="translate(15.4,156) rotate(-90)" font-family="'Liberation Sans', Arial, sans-serif" stroke="#000" stroke-width="0.25" font-size="16" text-anchor="middle" textLength="160" lengthAdjust="spacingAndGlyphs">Spectral transmission</text>
<path d="M104,178.6H134" stroke="#5050ff" stroke-width="1.3"/>
<path d="M104,198.6h1.4M109.6,198.6h1.4M115.8,198.6h8.8M129.6,198.6h1.4" stroke="#ff0000" stroke-width="1.6"/>
<path d="M104,217.3H134" stroke="#3a943a" stroke-width="1.3"/>
<path d="M104,235.3H134" stroke="#00ffff" stroke-width="2.0"/>
<path d="M104,254H134" stroke="#00ff00" stroke-width="2"/>
<text x="138.3" y="183.8" font-family="'Liberation Sans', Arial, sans-serif" font-weight="bold" font-size="14.5" fill="#0000ff" textLength="33.6" lengthAdjust="spacingAndGlyphs">Total</text>
<text x="138.3" y="203.8" font-family="'Liberation Sans', Arial, sans-serif" font-weight="bold" font-size="14.5" fill="#ff0000" textLength="126.6" lengthAdjust="spacingAndGlyphs">Total_convolution</text>
<text x="138.3" y="222.5" font-family="'Liberation Sans', Arial, sans-serif" font-weight="bold" font-size="14.5" fill="#008000" textLength="30.6" lengthAdjust="spacingAndGlyphs">H2O</text>
<text x="138.3" y="240.5" font-family="'Liberation Sans', Arial, sans-serif" font-weight="bold" font-size="14.5" fill="#00ffff">O3</text>
<text x="138.3" y="260" font-family="'Liberation Sans', Arial, sans-serif" font-weight="bold" font-size="14.5" fill="#00ff00" textLength="151.5" lengthAdjust="spacingAndGlyphs">Molecular Scattering</text>
</svg></body></html>
